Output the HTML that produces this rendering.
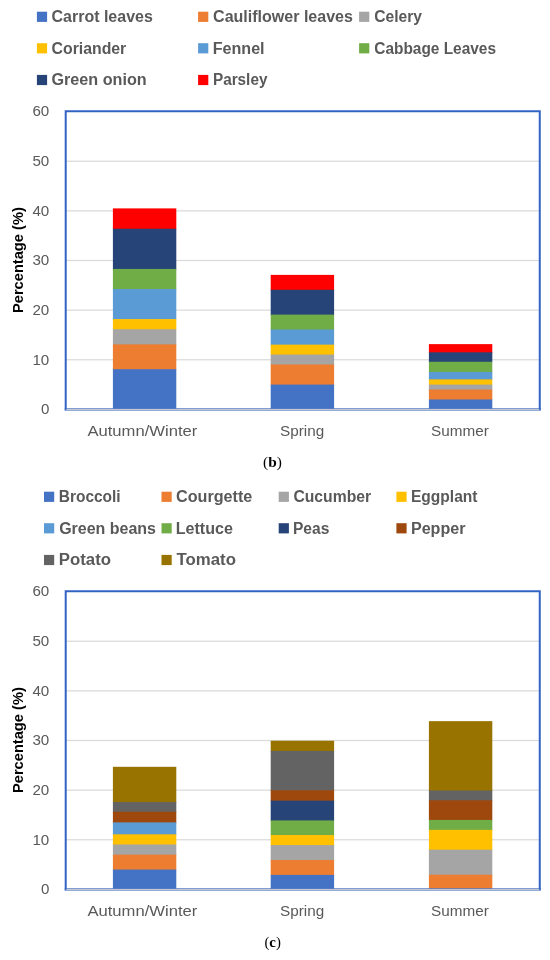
<!DOCTYPE html>
<html lang="en">
<head>
<meta charset="utf-8">
<title>Charts</title>
<style>
html,body{margin:0;padding:0;background:#fff;}
body{width:550px;height:960px;overflow:hidden;}
svg{display:block;}
.lg{font-family:"Liberation Sans",sans-serif;font-weight:bold;font-size:16px;fill:#595959;}
.tk{font-family:"Liberation Sans",sans-serif;font-size:15.5px;fill:#595959;}
.xl{font-family:"Liberation Sans",sans-serif;font-size:15.5px;fill:#595959;}
.yt{font-family:"Liberation Sans",sans-serif;font-weight:bold;font-size:15.5px;fill:#000;}
.cap{font-family:"Liberation Serif",serif;font-size:15px;fill:#000;}
</style>
</head>
<body>
<svg width="550" height="960" viewBox="0 0 550 960">
<rect x="0" y="0" width="550" height="960" fill="#fff"/>

<rect x="36.9" y="11.7" width="10.2" height="10.2" fill="#4472C4"/>
<text class="lg" x="51.55" y="22.0" textLength="101.26" lengthAdjust="spacingAndGlyphs">Carrot leaves</text>
<rect x="198.1" y="11.7" width="10.2" height="10.2" fill="#ED7D31"/>
<text class="lg" x="213.09" y="22.0" textLength="139.86" lengthAdjust="spacingAndGlyphs">Cauliflower leaves</text>
<rect x="359.1" y="11.7" width="10.2" height="10.2" fill="#A5A5A5"/>
<text class="lg" x="374.20" y="22.0" textLength="47.76" lengthAdjust="spacingAndGlyphs">Celery</text>
<rect x="36.9" y="43.2" width="10.2" height="10.2" fill="#FFC000"/>
<text class="lg" x="51.54" y="54.0" textLength="74.75" lengthAdjust="spacingAndGlyphs">Coriander</text>
<rect x="198.1" y="43.2" width="10.2" height="10.2" fill="#5B9BD5"/>
<text class="lg" x="212.71" y="54.0" textLength="51.84" lengthAdjust="spacingAndGlyphs">Fennel</text>
<rect x="359.1" y="43.2" width="10.2" height="10.2" fill="#70AD47"/>
<text class="lg" x="374.26" y="54.0" textLength="121.78" lengthAdjust="spacingAndGlyphs">Cabbage Leaves</text>
<rect x="36.9" y="74.9" width="10.2" height="10.2" fill="#264478"/>
<text class="lg" x="51.48" y="85.0" textLength="95.19" lengthAdjust="spacingAndGlyphs">Green onion</text>
<rect x="198.1" y="74.9" width="10.2" height="10.2" fill="#FF0000"/>
<text class="lg" x="212.95" y="85.0" textLength="54.46" lengthAdjust="spacingAndGlyphs">Parsley</text>
<rect x="65.7" y="160.63" width="474.1" height="1.2" fill="#D9D9D9"/>
<rect x="65.7" y="210.27" width="474.1" height="1.2" fill="#D9D9D9"/>
<rect x="65.7" y="259.90" width="474.1" height="1.2" fill="#D9D9D9"/>
<rect x="65.7" y="309.53" width="474.1" height="1.2" fill="#D9D9D9"/>
<rect x="65.7" y="359.17" width="474.1" height="1.2" fill="#D9D9D9"/>
<rect x="112.9" y="208.39" width="63.4" height="21.05" fill="#FF0000"/>
<rect x="112.9" y="228.73" width="63.4" height="40.90" fill="#264478"/>
<rect x="112.9" y="268.94" width="63.4" height="20.80" fill="#70AD47"/>
<rect x="112.9" y="289.04" width="63.4" height="30.73" fill="#5B9BD5"/>
<rect x="112.9" y="319.07" width="63.4" height="10.87" fill="#FFC000"/>
<rect x="112.9" y="329.24" width="63.4" height="15.84" fill="#A5A5A5"/>
<rect x="112.9" y="344.38" width="63.4" height="25.52" fill="#ED7D31"/>
<rect x="112.9" y="369.20" width="63.4" height="40.20" fill="#4472C4"/>
<rect x="270.7" y="274.89" width="63.4" height="15.59" fill="#FF0000"/>
<rect x="270.7" y="289.78" width="63.4" height="25.52" fill="#264478"/>
<rect x="270.7" y="314.60" width="63.4" height="15.59" fill="#70AD47"/>
<rect x="270.7" y="329.49" width="63.4" height="15.84" fill="#5B9BD5"/>
<rect x="270.7" y="344.63" width="63.4" height="10.63" fill="#FFC000"/>
<rect x="270.7" y="354.56" width="63.4" height="10.63" fill="#A5A5A5"/>
<rect x="270.7" y="364.48" width="63.4" height="20.80" fill="#ED7D31"/>
<rect x="270.7" y="384.58" width="63.4" height="24.82" fill="#4472C4"/>
<rect x="428.9" y="344.13" width="63.4" height="8.89" fill="#FF0000"/>
<rect x="428.9" y="352.32" width="63.4" height="10.13" fill="#264478"/>
<rect x="428.9" y="361.75" width="63.4" height="10.87" fill="#70AD47"/>
<rect x="428.9" y="371.93" width="63.4" height="8.14" fill="#5B9BD5"/>
<rect x="428.9" y="379.37" width="63.4" height="5.91" fill="#FFC000"/>
<rect x="428.9" y="384.58" width="63.4" height="5.66" fill="#A5A5A5"/>
<rect x="428.9" y="389.55" width="63.4" height="10.63" fill="#ED7D31"/>
<rect x="428.9" y="399.47" width="63.4" height="9.93" fill="#4472C4"/>
<path d="M65.7 409.50 V111.35 H539.75 V409.50" fill="none" stroke="#3163C5" stroke-width="2"/>
<rect x="64.7" y="408.30" width="476.1" height="2.3" fill="#3163C5"/>
<rect x="66.3" y="408.80" width="472.9" height="1.5" fill="#C3C7D0"/>
<text class="tk" x="32.4" y="116.0" textLength="16.9" lengthAdjust="spacingAndGlyphs">60</text>
<text class="tk" x="32.4" y="166.0" textLength="16.9" lengthAdjust="spacingAndGlyphs">50</text>
<text class="tk" x="32.4" y="216.0" textLength="16.9" lengthAdjust="spacingAndGlyphs">40</text>
<text class="tk" x="32.4" y="265.0" textLength="16.9" lengthAdjust="spacingAndGlyphs">30</text>
<text class="tk" x="32.4" y="315.0" textLength="16.9" lengthAdjust="spacingAndGlyphs">20</text>
<text class="tk" x="32.4" y="365.0" textLength="16.9" lengthAdjust="spacingAndGlyphs">10</text>
<text class="tk" x="40.9" y="414.0" textLength="8.4" lengthAdjust="spacingAndGlyphs">0</text>
<text class="yt" transform="translate(23 313.0) rotate(-90)" textLength="105.8" lengthAdjust="spacingAndGlyphs">Percentage (%)</text>
<text class="xl" x="87.41" y="436.1" textLength="109.95" lengthAdjust="spacingAndGlyphs">Autumn/Winter</text>
<text class="xl" x="280.01" y="436.1" textLength="44.14" lengthAdjust="spacingAndGlyphs">Spring</text>
<text class="xl" x="431.10" y="436.1" textLength="57.78" lengthAdjust="spacingAndGlyphs">Summer</text>
<text class="cap" x="263.1" y="467.0" textLength="18.8" lengthAdjust="spacingAndGlyphs">(<tspan font-weight="bold">b</tspan>)</text>
<rect x="44.0" y="491.7" width="10.2" height="10.2" fill="#4472C4"/>
<text class="lg" x="58.72" y="502.0" textLength="61.94" lengthAdjust="spacingAndGlyphs">Broccoli</text>
<rect x="161.5" y="491.7" width="10.2" height="10.2" fill="#ED7D31"/>
<text class="lg" x="176.09" y="502.0" textLength="76.27" lengthAdjust="spacingAndGlyphs">Courgette</text>
<rect x="278.7" y="491.7" width="10.2" height="10.2" fill="#A5A5A5"/>
<text class="lg" x="293.39" y="502.0" textLength="77.73" lengthAdjust="spacingAndGlyphs">Cucumber</text>
<rect x="396.4" y="491.7" width="10.2" height="10.2" fill="#FFC000"/>
<text class="lg" x="410.98" y="502.0" textLength="66.49" lengthAdjust="spacingAndGlyphs">Eggplant</text>
<rect x="44.0" y="523.2" width="10.2" height="10.2" fill="#5B9BD5"/>
<text class="lg" x="59.14" y="534.0" textLength="96.86" lengthAdjust="spacingAndGlyphs">Green beans</text>
<rect x="161.5" y="523.2" width="10.2" height="10.2" fill="#70AD47"/>
<text class="lg" x="175.74" y="534.0" textLength="57.16" lengthAdjust="spacingAndGlyphs">Lettuce</text>
<rect x="278.7" y="523.2" width="10.2" height="10.2" fill="#264478"/>
<text class="lg" x="292.98" y="534.0" textLength="36.36" lengthAdjust="spacingAndGlyphs">Peas</text>
<rect x="396.4" y="523.2" width="10.2" height="10.2" fill="#9E480E"/>
<text class="lg" x="410.98" y="534.0" textLength="54.48" lengthAdjust="spacingAndGlyphs">Pepper</text>
<rect x="44.0" y="554.9" width="10.2" height="10.2" fill="#636363"/>
<text class="lg" x="58.77" y="565.0" textLength="52.23" lengthAdjust="spacingAndGlyphs">Potato</text>
<rect x="161.5" y="554.9" width="10.2" height="10.2" fill="#997300"/>
<text class="lg" x="176.62" y="565.0" textLength="59.33" lengthAdjust="spacingAndGlyphs">Tomato</text>
<rect x="65.7" y="640.63" width="474.1" height="1.2" fill="#D9D9D9"/>
<rect x="65.7" y="690.27" width="474.1" height="1.2" fill="#D9D9D9"/>
<rect x="65.7" y="739.90" width="474.1" height="1.2" fill="#D9D9D9"/>
<rect x="65.7" y="789.53" width="474.1" height="1.2" fill="#D9D9D9"/>
<rect x="65.7" y="839.17" width="474.1" height="1.2" fill="#D9D9D9"/>
<rect x="112.9" y="766.81" width="63.4" height="35.94" fill="#997300"/>
<rect x="112.9" y="802.05" width="63.4" height="10.38" fill="#636363"/>
<rect x="112.9" y="811.72" width="63.4" height="11.37" fill="#9E480E"/>
<rect x="112.9" y="822.39" width="63.4" height="12.61" fill="#5B9BD5"/>
<rect x="112.9" y="834.31" width="63.4" height="10.87" fill="#FFC000"/>
<rect x="112.9" y="844.48" width="63.4" height="10.87" fill="#A5A5A5"/>
<rect x="112.9" y="854.66" width="63.4" height="15.59" fill="#ED7D31"/>
<rect x="112.9" y="869.55" width="63.4" height="19.85" fill="#4472C4"/>
<rect x="270.7" y="740.75" width="63.4" height="10.87" fill="#997300"/>
<rect x="270.7" y="750.92" width="63.4" height="40.01" fill="#636363"/>
<rect x="270.7" y="790.23" width="63.4" height="11.12" fill="#9E480E"/>
<rect x="270.7" y="800.66" width="63.4" height="20.45" fill="#264478"/>
<rect x="270.7" y="820.41" width="63.4" height="15.34" fill="#70AD47"/>
<rect x="270.7" y="835.05" width="63.4" height="10.73" fill="#FFC000"/>
<rect x="270.7" y="845.08" width="63.4" height="15.64" fill="#A5A5A5"/>
<rect x="270.7" y="860.02" width="63.4" height="15.59" fill="#ED7D31"/>
<rect x="270.7" y="874.91" width="63.4" height="14.49" fill="#4472C4"/>
<rect x="428.9" y="721.14" width="63.4" height="70.04" fill="#997300"/>
<rect x="428.9" y="790.48" width="63.4" height="10.53" fill="#636363"/>
<rect x="428.9" y="800.31" width="63.4" height="20.31" fill="#9E480E"/>
<rect x="428.9" y="819.91" width="63.4" height="10.63" fill="#70AD47"/>
<rect x="428.9" y="829.84" width="63.4" height="20.55" fill="#FFC000"/>
<rect x="428.9" y="849.69" width="63.4" height="25.72" fill="#A5A5A5"/>
<rect x="428.9" y="874.71" width="63.4" height="14.69" fill="#ED7D31"/>
<path d="M65.7 889.50 V591.35 H539.75 V889.50" fill="none" stroke="#3163C5" stroke-width="2"/>
<rect x="64.7" y="888.30" width="476.1" height="2.3" fill="#3163C5"/>
<rect x="66.3" y="888.80" width="472.9" height="1.5" fill="#C3C7D0"/>
<text class="tk" x="32.4" y="596.0" textLength="16.9" lengthAdjust="spacingAndGlyphs">60</text>
<text class="tk" x="32.4" y="646.0" textLength="16.9" lengthAdjust="spacingAndGlyphs">50</text>
<text class="tk" x="32.4" y="696.0" textLength="16.9" lengthAdjust="spacingAndGlyphs">40</text>
<text class="tk" x="32.4" y="745.0" textLength="16.9" lengthAdjust="spacingAndGlyphs">30</text>
<text class="tk" x="32.4" y="795.0" textLength="16.9" lengthAdjust="spacingAndGlyphs">20</text>
<text class="tk" x="32.4" y="845.0" textLength="16.9" lengthAdjust="spacingAndGlyphs">10</text>
<text class="tk" x="40.9" y="894.0" textLength="8.4" lengthAdjust="spacingAndGlyphs">0</text>
<text class="yt" transform="translate(23 793.0) rotate(-90)" textLength="105.8" lengthAdjust="spacingAndGlyphs">Percentage (%)</text>
<text class="xl" x="87.41" y="916.1" textLength="109.95" lengthAdjust="spacingAndGlyphs">Autumn/Winter</text>
<text class="xl" x="280.01" y="916.1" textLength="44.14" lengthAdjust="spacingAndGlyphs">Spring</text>
<text class="xl" x="431.10" y="916.1" textLength="57.78" lengthAdjust="spacingAndGlyphs">Summer</text>
<text class="cap" x="264.4" y="947.0" textLength="16.5" lengthAdjust="spacingAndGlyphs">(<tspan font-weight="bold">c</tspan>)</text>
</svg>
</body>
</html>
